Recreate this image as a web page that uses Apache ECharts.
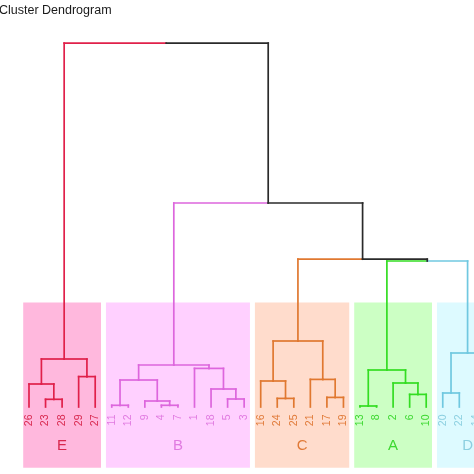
<!DOCTYPE html>
<html>
<head>
<meta charset="utf-8">
<script src="https://cdn.jsdelivr.net/npm/echarts@6/dist/echarts.min.js"></script>
<style>html,body{margin:0;padding:0;background:#fff}#c{width:474px;height:474px}</style>
</head>
<body>
<div id="c"></div>
<script>
// ---- data ----
const title = 'Cluster Dendrogram';
const leafOrder = ['26','23','28','29','27','11','12','9','4','7','1','18','5','3','16','24','25','21','17','19','13','8','2','6','10','20','22','14','15'];
const clusterNames = ['E','B','C','A','D'];
const clusterSizes = [5, 9, 6, 5, 4];
// merges: children are leaf labels (string) or earlier merge index (number)
const mergeLeft  = ['23','26','29',1, '11','4','9',4, '5','18','1',7, '24','16','17','21',13, '13','6','2',17, '20','14',21, 20,16,11,3];
const mergeRight = ['28',0,'27',2, '12','7',5,6, '3',8,9,10, '25',12,'19',14,15, '8','10',18,19, '22','15',22, 23,24,25,26];
const mergeHeight = [0.385,1.15,1.52,2.4, 0.085,0.085,0.3,1.35, 0.4,0.9,1.93,2.1, 0.43,1.3,0.48,1.38,3.3, 0.05,0.63,1.2,1.85, 0.7,1.0,2.7, 7.3,7.39,10.2,18.19];

// ---- styles ----
const lineColors  = ['#e0204a','#dd66dd','#e07830','#33dd22','#70c8e0'];
const labelColors = ['#d8284e','#e07ae0','#e07a38','#3cd830','#8ccfe0'];
const boxColors   = ['#ffb8dd','#ffd0ff','#ffdccc','#ccffc4','#ddfaff'];
const black = '#2a2a2a';
const boxTop = 5.23, boxBottom = -3.04, boxPad = 0.35, letterY = -1.95;

// ---- build geometry from tree data ----
const leafCluster = {};
let pos = 0;
clusterSizes.forEach((n, ci) => { for (let k = 0; k < n; k++) leafCluster[leafOrder[pos++]] = ci; });
const nodes = []; // x, h, cluster
function info(c) {
  if (typeof c === 'string') return { x: leafOrder.indexOf(c), h: 0, cl: leafCluster[c] };
  return nodes[c];
}
const segs = [];
mergeLeft.forEach((a, i) => {
  const A = info(a), B = info(mergeRight[i]), h = mergeHeight[i];
  const mid = (A.x + B.x) / 2;
  [A, B].forEach(ch => {
    const ci = ch.cl == null ? -1 : ch.cl;
    segs.push([ch.x, ch.h, ch.x, h, ci]);
    segs.push([ch.x, h, mid, h, ci]);
  });
  nodes.push({ x: mid, h: h, cl: (A.cl != null && A.cl === B.cl) ? A.cl : null });
});
const boxes = [];
pos = 0;
clusterSizes.forEach((n, ci) => { boxes.push([pos - boxPad, pos + n - 1 + boxPad, ci]); pos += n; });
const leafData = leafOrder.map((l, i) => [i, 0, leafCluster[l]]);

const chart = echarts.init(document.getElementById('c'));
chart.setOption({
  animation: false,
  backgroundColor: '#fff',
  graphic: [{ type: 'text', left: -1, top: 4, style: { text: title, fontSize: 12.5, fontFamily: 'Liberation Sans, Arial, sans-serif', fill: '#1a1a1a' } }],
  grid: { left: 0, right: 0, top: 0, bottom: 0 },
  xAxis: { type: 'value', min: -1.752, max: 26.888, show: false },
  yAxis: { type: 'value', min: -3.35, max: 20.35, show: false },
  series: [
    {
      type: 'custom', data: boxes, clip: true, z: 1,
      renderItem: (p, api) => {
        const ci = api.value(2);
        const a = api.coord([api.value(0), boxTop]), b = api.coord([api.value(1), boxBottom]);
        return { type: 'group', children: [
          { type: 'rect', shape: { x: a[0], y: a[1], width: b[0] - a[0], height: b[1] - a[1] }, style: { fill: boxColors[ci] } },
          { type: 'text', x: (a[0] + b[0]) / 2, y: api.coord([0, letterY])[1],
            style: { text: clusterNames[ci], fill: labelColors[ci], fontSize: 15, fontFamily: 'Liberation Sans, Arial, sans-serif', align: 'center', verticalAlign: 'middle' } }
        ] };
      }
    },
    {
      type: 'custom', data: segs, z: 3,
      renderItem: (p, api) => {
        const ci = api.value(4);
        const a = api.coord([api.value(0), api.value(1)]), b = api.coord([api.value(2), api.value(3)]);
        return { type: 'line', shape: { x1: a[0], y1: a[1], x2: b[0], y2: b[1] },
          style: { stroke: ci < 0 ? black : lineColors[ci], lineWidth: 1.7, lineCap: 'square' } };
      }
    },
    {
      type: 'custom', data: leafData, z: 4,
      renderItem: (p, api) => {
        const ci = api.value(2);
        const a = api.coord([api.value(0), api.value(1)]);
        return { type: 'text', x: a[0], y: a[1] + 7.5, rotation: Math.PI / 2,
          style: { text: leafOrder[p.dataIndex], fill: labelColors[ci], fontSize: 10.5, fontFamily: 'Liberation Sans, Arial, sans-serif', align: 'right', verticalAlign: 'middle' } };
      }
    }
  ]
});
</script>
</body>
</html>
